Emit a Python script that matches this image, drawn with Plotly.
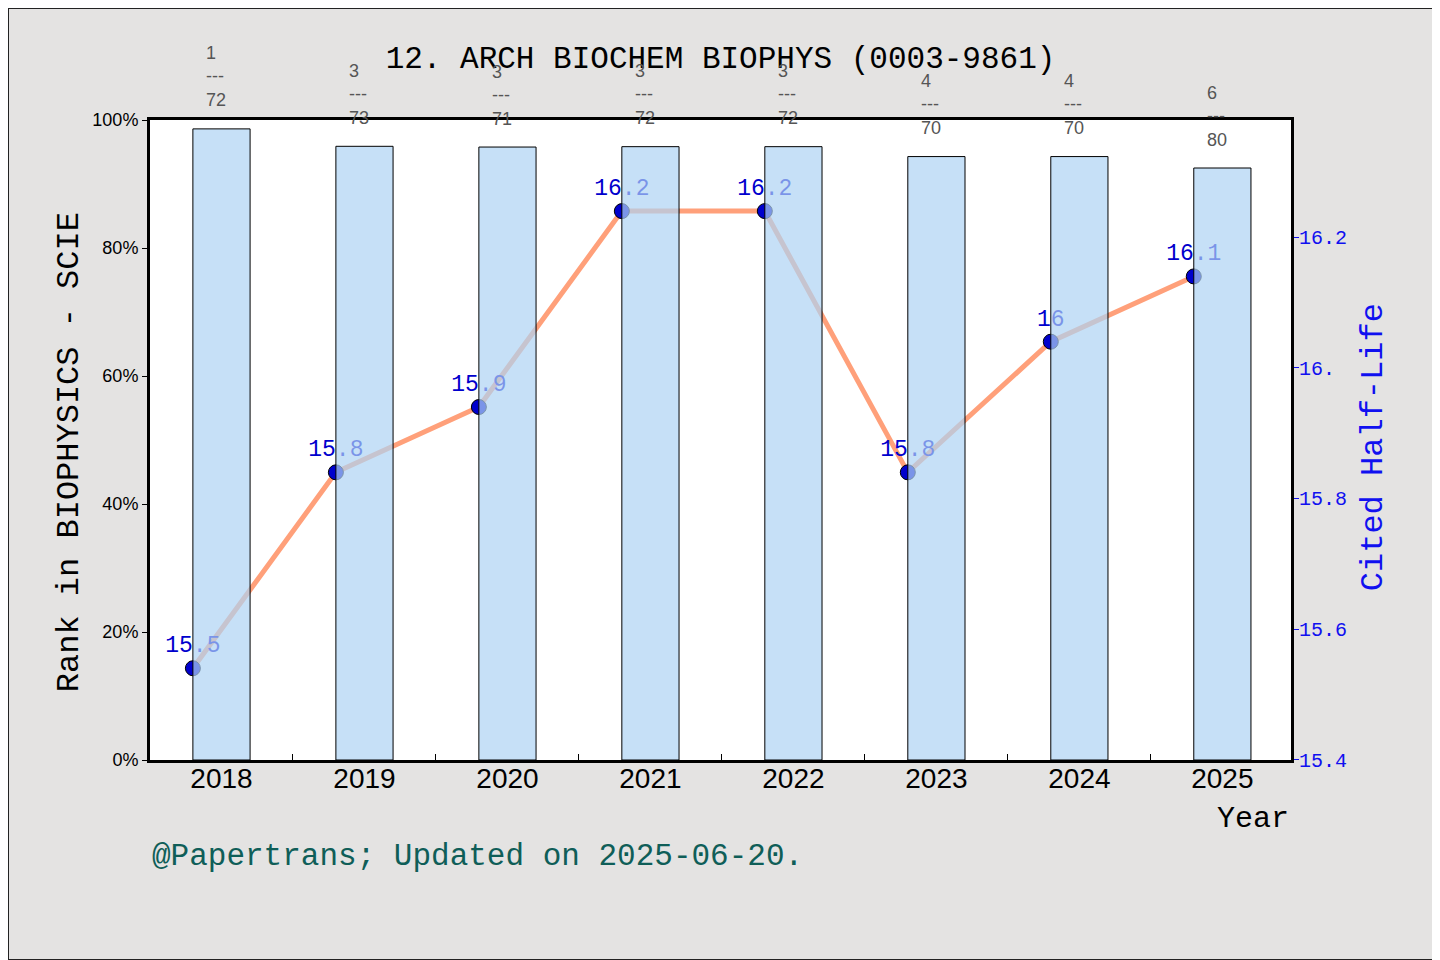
import plotly.graph_objects as go

# 数据
years = [2018, 2019, 2020, 2021, 2022, 2023, 2024, 2025]
ranks = [1, 3, 3, 3, 3, 4, 4, 6]
totals = [72, 73, 71, 72, 72, 70, 70, 80]
half_life = [15.5, 15.8, 15.9, 16.2, 16.2, 15.8, 16.0, 16.1]

# 右轴刻度
hl_tickvals = [15.36, 15.56, 15.76, 15.96, 16.16]
hl_ticktext = ['15.4', '15.6', '15.8', '16.', '16.2']

rank_pct = [100 * (1 - r / t) for r, t in zip(ranks, totals)]
hl_labels = ['%g' % v for v in half_life]

MONO = 'Liberation Mono'
SANS = 'Liberation Sans'

# 页面有 8px 的边距, 图放小一点让绘图区对齐
W, H = 1432, 952
ML, MT, PW, PH = 142, 112, 1141, 640

fig = go.Figure()

# 折线 (被柱子半透明覆盖)
fig.add_trace(go.Scatter(
    x=years, y=half_life, yaxis='y',
    mode='lines+markers+text',
    line=dict(color='#FFA07A', width=5),
    marker=dict(color='#0000CD', size=15, line=dict(color='black', width=1)),
    text=hl_labels, textposition='top center',
    textfont=dict(family=MONO, size=23, color='#0000CD'),
    showlegend=False, cliponaxis=False,
))

# 柱状图
fig.add_trace(go.Bar(
    x=years, y=rank_pct, yaxis='y2',
    offset=0, width=0.4,
    marker=dict(color='rgba(174,211,244,0.7)', line=dict(color='black', width=1)),
    showlegend=False,
))

for yr, r, t, p in zip(years, ranks, totals, rank_pct):
    fig.add_annotation(
        x=yr + 0.075, y=p, xref='x', yref='y2', yshift=52,
        xanchor='left', yanchor='middle',
        text=f'{r}<br>---<br>{t}', showarrow=False,
        font=dict(family=SANS, size=18, color='#555555'),
        align='left',
    )

fig.add_annotation(x=-0.071, y=0.481, xref='paper', yref='paper',
                   xanchor='center', yanchor='middle',
                   text='Rank in BIOPHYSICS - SCIE', textangle=-90, showarrow=False,
                   font=dict(family=MONO, size=32, color='black'))
fig.add_annotation(x=1.072, y=0.489, xref='paper', yref='paper',
                   xanchor='center', yanchor='middle',
                   text='Cited Half-Life', textangle=-90, showarrow=False,
                   font=dict(family=MONO, size=32, color='#1010F0'))
fig.add_annotation(x=1.0, y=-0.092, xref='paper', yref='paper',
                   xanchor='right', yanchor='middle',
                   text='Year', showarrow=False,
                   font=dict(family=MONO, size=30, color='black'))
fig.add_annotation(x=0.0, y=-0.151, xref='paper', yref='paper',
                   xanchor='left', yanchor='middle',
                   text='@Papertrans; Updated on 2025-06-20.', showarrow=False,
                   font=dict(family=MONO, size=31, color='#0F5E58'))

# 外边框
fig.add_shape(type='rect', xref='paper', yref='paper',
              x0=-ML / PW, x1=1 + (W - ML - PW) / PW,
              y0=-(H - MT - PH) / PH, y1=1 + MT / PH,
              line=dict(color='#222222', width=2), layer='below')

fig.update_layout(
    width=W, height=H,
    margin=dict(l=ML, r=W - ML - PW, t=MT, b=H - MT - PH),
    paper_bgcolor='#E4E3E2', plot_bgcolor='white',
    title=dict(text='12. ARCH BIOCHEM BIOPHYS (0003-9861)', x=(ML + PW / 2) / W, xanchor='center',
               y=1 - 49 / H, yanchor='middle',
               font=dict(family=MONO, size=31, color='black')),
    xaxis=dict(
        range=[2017.7, 2025.68], tickmode='array',
        tickvals=[y + 0.2 for y in years], ticktext=[str(y) for y in years],
        ticks='', ticklabelstandoff=-9,
        tickfont=dict(family=SANS, size=28, color='black'),
        showline=True, linecolor='black', linewidth=3, mirror=True,
        showgrid=False, zeroline=False,
        minor=dict(tickmode='array', tickvals=[y + 0.7 for y in years[:-1]],
                   ticks='inside', ticklen=6, tickcolor='black', tickwidth=1),
    ),
    yaxis=dict(
        side='right', range=[15.3595, 16.3395],
        tickmode='array', tickvals=hl_tickvals, ticktext=hl_ticktext,
        ticks='outside', ticklen=5, tickcolor='#1010F0', ticklabelstandoff=-4,
        tickfont=dict(family=MONO, size=20, color='#1010F0'),
        showline=True, linecolor='black', linewidth=3,
        showgrid=False, zeroline=False,
    ),
    yaxis2=dict(
        side='left', overlaying='y', range=[0, 100],
        tickmode='array', tickvals=[0, 20, 40, 60, 80, 100],
        ticktext=['0%', '20%', '40%', '60%', '80%', '100%'],
        ticks='outside', ticklen=5, tickcolor='black',
        tickfont=dict(family=SANS, size=18, color='black'),
        showline=True, linecolor='black', linewidth=3,
        showgrid=False, zeroline=False,
    ),
)

fig.write_html('out.html')
